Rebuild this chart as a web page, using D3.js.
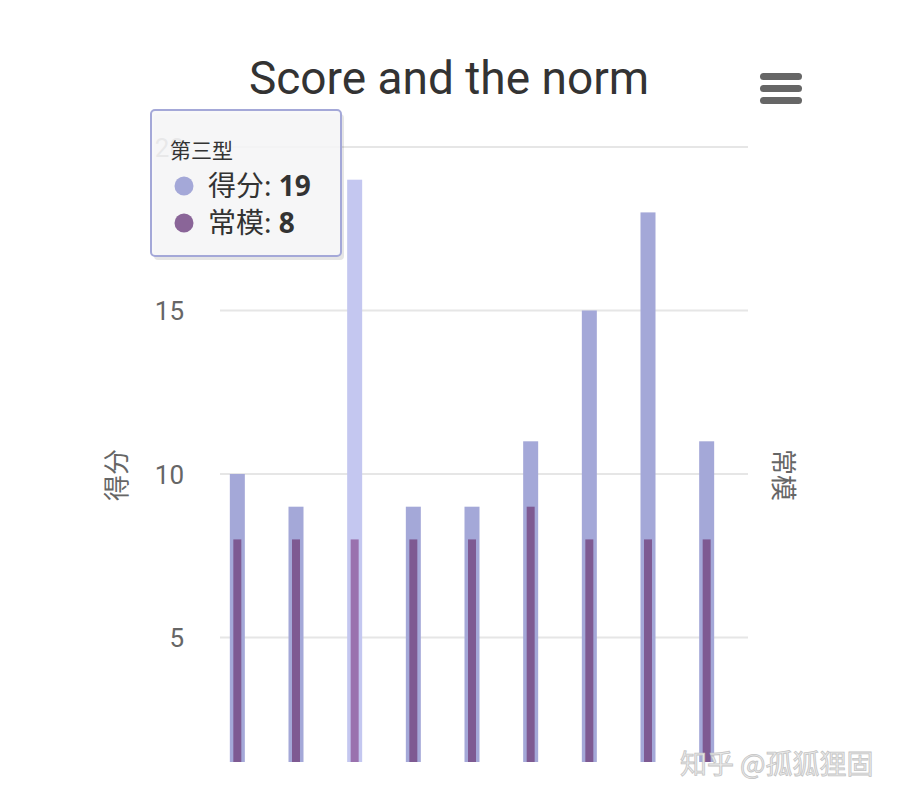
<!DOCTYPE html>
<html><head><meta charset="utf-8">
<script src="https://cdn.jsdelivr.net/npm/d3@7"></script>
<style>body{margin:0;background:#fff;}svg{display:block;font-family:"Noto Sans","Noto Sans CJK SC",sans-serif;}</style>
</head><body>
<svg id="c" width="898" height="801"></svg>
<script>
const categories = ["第一型","第二型","第三型","第四型","第五型","第六型","第七型","第八型","第九型"];
const scoreValues = [10, 9, 19, 9, 9, 11, 15, 18, 11];
const normValues = [8, 8, 8, 8, 8, 9, 8, 8, 8];
const yTicks = [5, 10, 15, 20];
const hoverIndex = 2;

const svg = d3.select("#c");
const plot = {left: 220, right: 748, top: 147, bottom: 762};
const x = d3.scaleBand().domain(categories).range([plot.left, plot.right]);
const y = d3.scaleLinear().domain([0, 20]).range([801, 147]);

svg.append("defs").append("clipPath").attr("id","pc")
  .append("rect").attr("x",plot.left-20).attr("y",plot.top-60).attr("width",plot.right-plot.left+40).attr("height",plot.bottom-plot.top+60);

// title
svg.append("text").attr("x",449).attr("y",94).attr("text-anchor","middle")
  .attr("font-size",46).attr("fill","#333").attr("font-family","Roboto, sans-serif").text("Score and the norm");

// menu icon
[0,1,2].forEach(i=>{
  svg.append("rect").attr("x",760).attr("y",73+i*12).attr("width",42).attr("height",7).attr("rx",3.5).attr("fill","#666");
});

// grid
const gridG = svg.append("g");
yTicks.forEach(t=>{
  gridG.append("line").attr("x1",plot.left).attr("x2",plot.right).attr("y1",y(t)).attr("y2",y(t))
    .attr("stroke","#e6e6e6").attr("stroke-width",2);
});

// y axis labels
const axisG = svg.append("g").attr("transform",`translate(${plot.left-36},0)`);
const yAxis = d3.axisLeft(y).tickValues(yTicks).tickSize(0).tickPadding(0);
axisG.call(yAxis);
axisG.select(".domain").remove();
axisG.selectAll("text").attr("font-size",26).attr("fill","#666").attr("dy","0.35em")
  .attr("font-family","Roboto, sans-serif");

// axis titles
svg.append("text").attr("transform","translate(126,475) rotate(-90)").attr("text-anchor","middle")
  .attr("font-size",26).attr("fill","#666").text("得分");
svg.append("text").attr("transform","translate(774,475) rotate(90)").attr("text-anchor","middle")
  .attr("font-size",26).attr("fill","#666").text("常模");

// bars
const barsG = svg.append("g").attr("clip-path","url(#pc)");
const off = -12;
barsG.selectAll("rect.s").data(scoreValues).join("rect").attr("class","s")
  .attr("x",(d,i)=>x(categories[i])+x.bandwidth()/2+off-7.5).attr("width",15)
  .attr("y",d=>y(d)).attr("height",d=>y(0)-y(d))
  .attr("fill",(d,i)=>i===hoverIndex?"#c4c7f0":"#a4a8d8");
barsG.selectAll("rect.n").data(normValues).join("rect").attr("class","n")
  .attr("x",(d,i)=>x(categories[i])+x.bandwidth()/2+off-4).attr("width",8)
  .attr("y",d=>y(d)).attr("height",d=>y(0)-y(d))
  .attr("fill",(d,i)=>i===hoverIndex?"#9a72ae":"#7e5a92");

// tooltip
const tt = svg.append("g").attr("transform","translate(151,110)");
tt.append("rect").attr("x",3).attr("y",4).attr("width",190).attr("height",146).attr("rx",4).attr("fill","rgba(0,0,0,0.10)");
tt.append("rect").attr("x",0).attr("y",0).attr("width",190).attr("height",146).attr("rx",4)
  .attr("fill","rgba(247,247,248,0.9)").attr("stroke","#a4a8d8").attr("stroke-width",2);
tt.append("text").attr("x",19).attr("y",48).attr("font-size",21).attr("fill","#333").text(categories[hoverIndex]);
const rows = [["得分", scoreValues[hoverIndex], "#a4a8d8"],["常模", normValues[hoverIndex], "#8a6598"]];
rows.forEach((r,i)=>{
  const yy = 86 + i*37;
  tt.append("circle").attr("cx",33).attr("cy",yy-10).attr("r",9.5).attr("fill",r[2]);
  const t = tt.append("text").attr("x",57).attr("y",yy).attr("font-size",28).attr("fill","#333");
  t.append("tspan").text(r[0]+": ");
  t.append("tspan").attr("font-weight","bold").text(r[1]);
});

// watermark
svg.append("text").attr("x",680).attr("y",774).attr("font-size",27).attr("fill","#ececec")
  .attr("stroke","#c4c4c4").attr("stroke-width",0.8).attr("font-family","Noto Sans CJK SC")
  .text("知乎 @孤狐狸固");
</script>
</body></html>
